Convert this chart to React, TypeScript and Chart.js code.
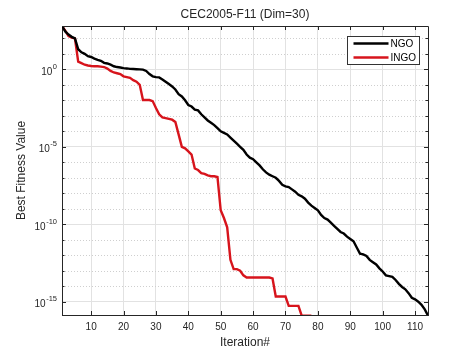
import React, { useEffect, useRef } from "react";
import { Chart, registerables } from "chart.js";

Chart.register(...registerables);

const chartTitle = "CEC2005-F11 (Dim=30)";
const xAxisLabel = "Iteration#";
const yAxisLabel = "Best Fitness Value";
const seriesNames = ["NGO", "INGO"];
const seriesColors = ["#000000", "#d7141c"];
const xTickValues = [10, 20, 30, 40, 50, 60, 70, 80, 90, 100, 110];
const yMajorExps = [0, -5, -10, -15];
const yTickBase = "10";
const yTickExpLabels = ["0", "-5", "-10", "-15"];
const xRange = [1, 114];
const yRangeExp = [-15.86, 2.8];

// log10 of best fitness per iteration (iteration = index + 1)
const ngoLog10 = [
  2.8, 2.45, 2.25, 2.1, 2.0, 1.3, 1.1, 1.0, 0.85, 0.8,
  0.7, 0.62, 0.55, 0.42, 0.38, 0.3, 0.2, 0.15, 0.12, 0.08,
  0.06, 0.03, 0.02, 0.01, 0.0, -0.02, -0.1, -0.3, -0.45, -0.5,
  -0.52, -0.65, -0.8, -0.95, -1.1, -1.3, -1.6, -1.75, -2.0, -2.3,
  -2.4, -2.6, -2.65, -2.9, -3.1, -3.3, -3.45, -3.6, -3.8, -4.0,
  -4.1, -4.2, -4.4, -4.6, -4.8, -5.0, -5.2, -5.5, -5.7, -5.8,
  -6.0, -6.2, -6.45, -6.65, -6.8, -6.9, -7.0, -7.2, -7.45, -7.55,
  -7.6, -7.75, -7.9, -8.1, -8.2, -8.35, -8.6, -8.8, -8.95, -9.1,
  -9.4, -9.6, -9.7, -9.9, -10.1, -10.3, -10.5, -10.6, -10.8, -10.95,
  -11.1, -11.5, -11.9, -11.95, -12.05, -12.3, -12.45, -12.6, -12.85, -13.05,
  -13.3, -13.35, -13.4, -13.6, -13.85, -14.05, -14.2, -14.45, -14.75, -14.85,
  -15.0, -15.2, -15.5, -15.9,
];

const ingoLog10 = [
  2.8, 2.5, 2.15, 2.05, 2.0, 0.5, 0.4, 0.3, 0.25, 0.22,
  0.2, 0.2, 0.18, 0.15, 0.05, -0.1, -0.2, -0.25, -0.3, -0.45,
  -0.5, -0.55, -0.7, -0.8, -1.0, -1.98, -1.98, -1.98, -2.05, -2.5,
  -2.9, -3.1, -3.15, -3.2, -3.25, -3.4, -4.2, -5.0, -5.1, -5.3,
  -5.5, -6.4, -6.5, -6.7, -6.75, -6.85, -6.9, -6.9, -6.95, -9.1,
  -9.6, -10.2, -12.3, -12.9, -12.9, -13.0, -13.3, -13.44, -13.44, -13.44,
  -13.44, -13.44, -13.44, -13.44, -13.44, -13.5, -14.67, -14.67, -14.67, -14.67,
  -15.27, -15.27, -15.27, -15.27, -15.9, -15.9, -15.9, -15.9,
];

const FONT = '"Liberation Sans", Arial, Helvetica, sans-serif';
const AXIS_COLOR = "#262626";

const toPoints = (arr: number[]) => arr.map((v, i) => ({ x: i + 1, y: Math.pow(10, v) }));

const decorPlugin = {
  id: "matlabDecor",
  beforeDatasetsDraw(chart: any) {
    const { ctx, chartArea: a, scales } = chart;
    const y = scales.y;
    ctx.save();
    ctx.strokeStyle = "#cfcfcf";
    ctx.lineWidth = 1;
    ctx.setLineDash([1, 2]);
    for (let e = Math.ceil(yRangeExp[0]); e <= Math.floor(yRangeExp[1]); e++) {
      if (e % 5 === 0) continue;
      const py = Math.round(y.getPixelForValue(Math.pow(10, e))) + 0.5;
      ctx.beginPath();
      ctx.moveTo(a.left, py);
      ctx.lineTo(a.right, py);
      ctx.stroke();
    }
    ctx.restore();
  },
  afterDraw(chart: any) {
    const { ctx, chartArea: a, scales } = chart;
    const x = scales.x;
    const y = scales.y;
    ctx.save();
    ctx.strokeStyle = AXIS_COLOR;
    ctx.lineWidth = 1;
    // box top/right
    ctx.beginPath();
    ctx.moveTo(a.left, a.top + 0.5);
    ctx.lineTo(a.right + 0.5, a.top + 0.5);
    ctx.lineTo(a.right + 0.5, a.bottom);
    ctx.stroke();
    // inward ticks
    ctx.beginPath();
    for (const t of xTickValues) {
      const px = Math.round(x.getPixelForValue(t)) + 0.5;
      ctx.moveTo(px, a.bottom);
      ctx.lineTo(px, a.bottom - 4);
      ctx.moveTo(px, a.top);
      ctx.lineTo(px, a.top + 4);
    }
    for (let e = Math.ceil(yRangeExp[0]); e <= Math.floor(yRangeExp[1]); e++) {
      const py = Math.round(y.getPixelForValue(Math.pow(10, e))) + 0.5;
      const len = e % 5 === 0 ? 4 : 2.5;
      ctx.moveTo(a.left, py);
      ctx.lineTo(a.left + len, py);
      ctx.moveTo(a.right, py);
      ctx.lineTo(a.right - len, py);
    }
    ctx.stroke();

    // y tick labels: 10 with superscript exponent
    ctx.fillStyle = AXIS_COLOR;
    ctx.textBaseline = "alphabetic";
    yMajorExps.forEach((e, i) => {
      const py = y.getPixelForValue(Math.pow(10, e));
      const rightX = a.left - 5;
      ctx.font = `7.5px ${FONT}`;
      const expText = yTickExpLabels[i];
      const ew = ctx.measureText(expText).width;
      ctx.textAlign = "right";
      ctx.fillText(expText, rightX, py - 0.5);
      ctx.font = `10px ${FONT}`;
      ctx.fillText(yTickBase, rightX - ew - 0.5, py + 5.5);
    });

    // title
    ctx.fillStyle = AXIS_COLOR;
    ctx.font = `12px ${FONT}`;
    ctx.textAlign = "center";
    ctx.textBaseline = "middle";
    ctx.fillText(chartTitle, (a.left + a.right) / 2, 15);

    // legend
    const lx = 347.5, ly = 36.5, lw = 72, lh = 28;
    ctx.fillStyle = "#ffffff";
    ctx.fillRect(lx, ly, lw, lh);
    ctx.strokeStyle = "#333333";
    ctx.strokeRect(lx, ly, lw, lh);
    ctx.font = `10px ${FONT}`;
    ctx.textAlign = "left";
    chart.data.datasets.forEach((ds: any, i: number) => {
      const yy = ly + 7 + i * 14;
      ctx.strokeStyle = ds.borderColor;
      ctx.lineWidth = 2.4;
      ctx.beginPath();
      ctx.moveTo(lx + 6, yy);
      ctx.lineTo(lx + 41, yy);
      ctx.stroke();
      ctx.fillStyle = "#000000";
      ctx.fillText(ds.label, lx + 43, yy + 0.5);
    });
    ctx.restore();
  },
};

export default function App() {
  const ref = useRef<HTMLCanvasElement | null>(null);

  useEffect(() => {
    if (!ref.current) return;
    const chart = new Chart(ref.current, {
      type: "line",
      data: {
        datasets: [
          {
            label: seriesNames[0],
            data: toPoints(ngoLog10),
            borderColor: seriesColors[0],
            backgroundColor: seriesColors[0],
            borderWidth: 2.4,
            pointRadius: 0,
            tension: 0,
          },
          {
            label: seriesNames[1],
            data: toPoints(ingoLog10),
            borderColor: seriesColors[1],
            backgroundColor: seriesColors[1],
            borderWidth: 2.4,
            pointRadius: 0,
            tension: 0,
          },
        ],
      },
      options: {
        animation: false,
        responsive: false,
        parsing: false as any,
        layout: { padding: { top: 26, right: 46, left: 0, bottom: 0 } },
        plugins: {
          legend: { display: false },
          title: { display: false },
          tooltip: { enabled: false },
        },
        scales: {
          x: {
            type: "linear",
            min: xRange[0],
            max: xRange[1],
            afterFit(scale: any) {
              scale.height = 40;
            },
            afterBuildTicks(scale: any) {
              scale.ticks = xTickValues.map((v) => ({ value: v }));
            },
            ticks: {
              autoSkip: false,
              maxRotation: 0,
              padding: 6,
              color: AXIS_COLOR,
              font: { family: FONT, size: 10 },
              callback: (v: any) => String(v),
            },
            grid: { color: "#e2e2e2", drawTicks: false, lineWidth: 1 },
            border: { color: AXIS_COLOR, width: 1 },
            title: {
              display: true,
              text: xAxisLabel,
              color: AXIS_COLOR,
              font: { family: FONT, size: 12 },
              padding: { top: 0, bottom: 5 },
            },
          },
          y: {
            type: "logarithmic",
            min: Math.pow(10, yRangeExp[0]),
            max: Math.pow(10, yRangeExp[1]),
            afterFit(scale: any) {
              scale.width = 62;
            },
            afterBuildTicks(scale: any) {
              scale.ticks = yMajorExps.map((e) => ({ value: Math.pow(10, e) }));
            },
            ticks: { display: false },
            grid: { color: "#e2e2e2", drawTicks: false, lineWidth: 1 },
            border: { color: AXIS_COLOR, width: 1 },
            title: {
              display: true,
              text: yAxisLabel,
              color: AXIS_COLOR,
              font: { family: FONT, size: 12 },
              padding: { top: 14, bottom: 0 },
            },
          },
        },
      },
      plugins: [decorPlugin],
    });
    return () => chart.destroy();
  }, []);

  return (
    <div style={{ position: "fixed", left: 0, top: 0, width: 474, height: 355, background: "#ffffff" }}>
      <canvas ref={ref} width={474} height={355} style={{ display: "block" }} />
    </div>
  );
}
